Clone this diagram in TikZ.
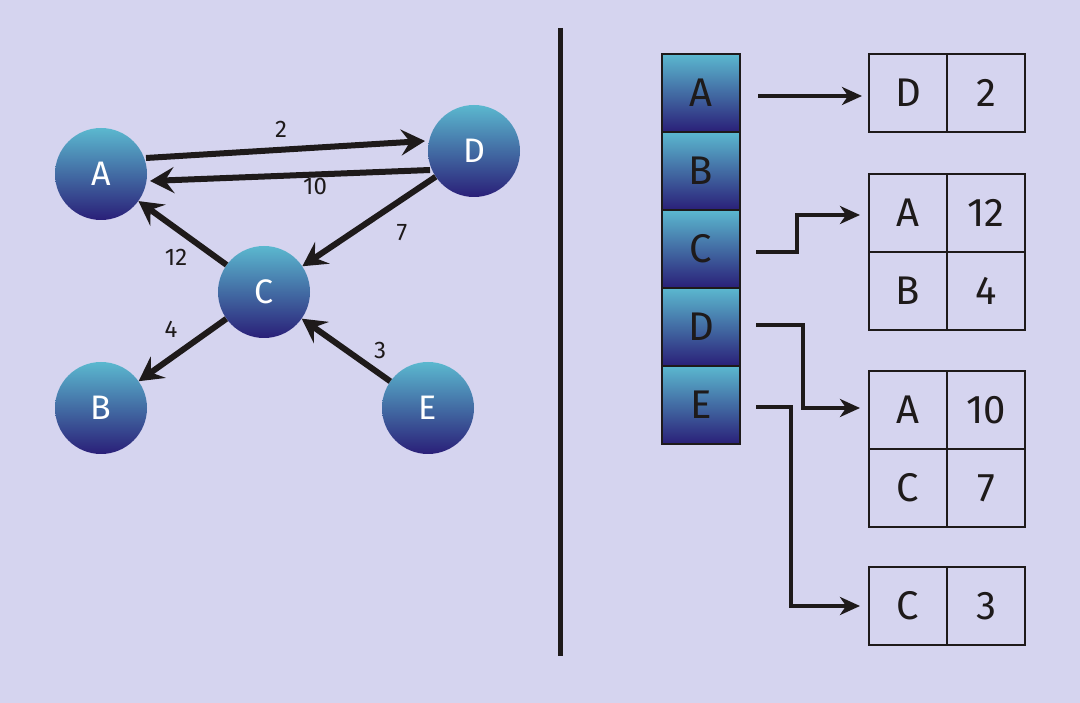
\documentclass[tikz,border=0pt]{standalone}
\usepackage{fontspec}
\setmainfont{Fira Sans}
\usetikzlibrary{arrows.meta,calc}
\definecolor{bg}{HTML}{D5D4EF}
\definecolor{ctop}{HTML}{5BB8CF}
\definecolor{cbot}{HTML}{2A1F78}
\definecolor{ink}{HTML}{1E1A1A}
\tikzset{
  vert/.style={circle,minimum size=92pt,inner sep=0pt,top color=ctop,bottom color=cbot,text=white,font=\fontsize{34}{34}\selectfont},
  edge/.style={draw=ink,line width=6pt,-{Stealth[length=24pt,width=26pt,inset=9pt]}},
  wl/.style={text=ink,font=\fontsize{24}{24}\selectfont},
  cell/.style={draw=ink,line width=1.5pt,minimum width=78pt,minimum height=78pt,inner sep=0pt,top color=ctop,bottom color=cbot,text=ink,font=\fontsize{40}{40}\selectfont},
  box/.style={draw=ink,line width=1.5pt,fill=bg,minimum width=78pt,minimum height=78pt,inner sep=0pt,text=ink,font=\fontsize{40}{40}\selectfont},
  lnk/.style={draw=ink,line width=4pt,-{Stealth[length=20pt,width=18pt,inset=6pt]}}
}
\begin{document}
\begin{tikzpicture}[x=1pt,y=-1pt]
\fill[bg] (0,0) rectangle (1080,703);
\useasboundingbox (0,0) rectangle (1080,703);
% graph
\node[vert] (A) at (101,174) {A};
\node[vert] (D) at (474,151) {D};
\node[vert] (C) at (264,292) {C};
\node[vert] (B) at (101,408) {B};
\node[vert] (E) at (428,408) {E};
\coordinate (ad1) at (146,158); \coordinate (ad2) at (425,141);
\coordinate (da1) at (430,170); \coordinate (da2) at (150,181);
\draw[edge] (ad1) -- (ad2);
\draw[edge] (da1) -- (da2);
\draw[edge] (C) -- (A);
\draw[edge] (D) -- (C);
\draw[edge] (C) -- (B);
\draw[edge] (E) -- (C);
\node[wl] (l2) at (281,129) {2};
\node[wl] (l10) at (315,186) {10};
\node[wl] (l12) at (176,257) {12};
\node[wl] (l7) at (402,233) {7};
\node[wl] (l4) at (171,329) {4};
\node[wl] (l3) at (380,350) {3};
% divider
\coordinate (v1) at (560,28); \coordinate (v2) at (560,656);
\draw[ink,line width=5pt] (v1) -- (v2);
% array
\node[cell] (cA) at (701,93) {A};
\node[cell] (cB) at (701,171) {B};
\node[cell] (cC) at (701,249) {C};
\node[cell] (cD) at (701,327) {D};
\node[cell] (cE) at (701,405) {E};
% lists
\node[box] (d1) at (908,93) {D}; \node[box] (d1w) at (986,93) {2};
\node[box] (c1) at (908,213) {A}; \node[box] (c1w) at (986,213) {12};
\node[box] (c2) at (908,291) {B}; \node[box] (c2w) at (986,291) {4};
\node[box] (e1) at (908,410) {A}; \node[box] (e1w) at (986,410) {10};
\node[box] (e2) at (908,488) {C}; \node[box] (e2w) at (986,488) {7};
\node[box] (f1) at (908,606) {C}; \node[box] (f1w) at (986,606) {3};
% links
\coordinate (sA) at (758,96); \coordinate (tA) at (862,96);
\draw[lnk] (sA) -- (tA);
\coordinate (sC) at (756,252); \coordinate (tC) at (860,215);
\draw[lnk] (sC) -- (797,252) -- (797,215) -- (tC);
\coordinate (sD) at (756,325); \coordinate (tD) at (860,408);
\draw[lnk] (sD) -- (803,325) -- (803,408) -- (tD);
\coordinate (sE) at (756,407); \coordinate (tE) at (860,606);
\draw[lnk] (sE) -- (791,407) -- (791,606) -- (tE);
\end{tikzpicture}
\end{document}
